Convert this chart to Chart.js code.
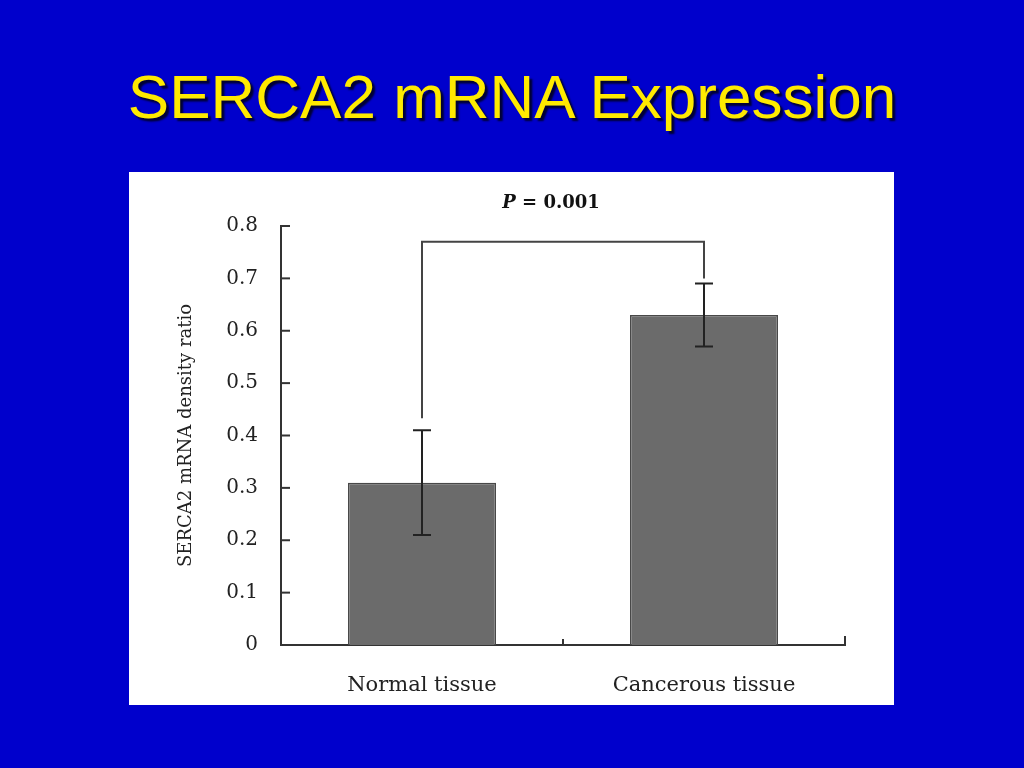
<!DOCTYPE html>
<html>
<head>
<meta charset="utf-8">
<script src="https://cdn.jsdelivr.net/npm/chart.js@4"></script>
<style>
  html, body { margin: 0; padding: 0; }
  body { width: 1024px; height: 768px; background: #0000cc; position: relative; overflow: hidden; }
  #title {
    position: absolute; left: 0; top: 61px; width: 1024px; text-align: center;
    font-family: "Liberation Sans", Arial, sans-serif; font-size: 62px; color: #ffea00;
    text-shadow: 3px 3px 2px #000033; white-space: nowrap;
  }
  #panel { position: absolute; left: 129px; top: 172px; width: 765px; height: 533px; background: #fff; }
</style>
</head>
<body>
<div id="title">SERCA2 mRNA Expression</div>
<div id="panel"><canvas id="myChart" width="765" height="533"></canvas></div>
<script>
const categories = ['Normal tissue', 'Cancerous tissue'];
const means = [0.31, 0.63];
const errors = [0.10, 0.06];
const yTicks = [0, 0.1, 0.2, 0.3, 0.4, 0.5, 0.6, 0.7, 0.8];
const pLabel = 'P = 0.001';
const bracketTop = 0.77;
const bracketLegEnds = [0.433, 0.70];

const serif = '"DejaVu Serif", "Liberation Serif", serif';

const extras = {
    id: 'extras',
    afterDatasetsDraw(chart) {
        const ctx = chart.ctx;
        const x = chart.scales.x;
        const y = chart.scales.y;
        const area = chart.chartArea;
        ctx.save();
        ctx.strokeStyle = '#333';
        ctx.lineWidth = 2;

        // inward ticks on y axis
        yTicks.forEach(v => {
            const py = y.getPixelForValue(v);
            ctx.beginPath();
            ctx.moveTo(area.left, py);
            ctx.lineTo(area.left + 9, py);
            ctx.stroke();
        });

        // small ticks on x axis
        const mid = (x.getPixelForValue(0) + x.getPixelForValue(1)) / 2;
        [[mid, 6], [area.right, 9]].forEach(([px, len]) => {
            ctx.beginPath();
            ctx.moveTo(px, area.bottom);
            ctx.lineTo(px, area.bottom - len);
            ctx.stroke();
        });

        // error bars
        ctx.strokeStyle = '#222';
        means.forEach((m, i) => {
            const px = x.getPixelForValue(i);
            const top = y.getPixelForValue(m + errors[i]);
            const bot = y.getPixelForValue(m - errors[i]);
            ctx.beginPath();
            ctx.moveTo(px, top); ctx.lineTo(px, bot);
            ctx.moveTo(px - 9, top); ctx.lineTo(px + 9, top);
            ctx.moveTo(px - 9, bot); ctx.lineTo(px + 9, bot);
            ctx.stroke();
        });

        // significance bracket
        const x0 = x.getPixelForValue(0);
        const x1 = x.getPixelForValue(1);
        const by = y.getPixelForValue(bracketTop);
        ctx.strokeStyle = '#444';
        ctx.beginPath();
        ctx.moveTo(x0, y.getPixelForValue(bracketLegEnds[0]));
        ctx.lineTo(x0, by);
        ctx.lineTo(x1, by);
        ctx.lineTo(x1, y.getPixelForValue(bracketLegEnds[1]));
        ctx.stroke();

        // P value, italic P then bold rest
        ctx.fillStyle = '#111';
        ctx.textBaseline = 'middle';
        ctx.textAlign = 'left';
        const cx = (x0 + x1) / 2 - 12;
        const ty = by - 38;
        ctx.font = 'italic bold 18px ' + serif;
        const pW = ctx.measureText('P').width;
        ctx.font = 'bold 18px ' + serif;
        const rest = pLabel.slice(1);
        const rW = ctx.measureText(rest).width;
        const sx = cx - (pW + rW) / 2;
        ctx.font = 'italic bold 18px ' + serif;
        ctx.fillText('P', sx, ty);
        ctx.font = 'bold 18px ' + serif;
        ctx.fillText(rest, sx + pW, ty);
        ctx.restore();
    }
};

const ctx = document.getElementById('myChart').getContext('2d');
const chart = new Chart(ctx, {
    type: 'bar',
    data: {
        labels: categories,
        datasets: [{
            data: means,
            backgroundColor: '#6b6b6b',
            borderColor: '#484848',
            borderWidth: 1.5,
            barPercentage: 0.525,
            categoryPercentage: 1
        }]
    },
    options: {
        responsive: false,
        animation: false,
        layout: { padding: { left: 47, right: 49, top: 54, bottom: 0 } },
        plugins: { legend: { display: false }, tooltip: { enabled: false } },
        scales: {
            x: {
                grid: { display: false, drawTicks: false },
                border: { display: true, color: '#333', width: 2 },
                ticks: { color: '#222', font: { family: serif, size: 21 }, padding: 28 },
                afterFit: s => { s.height = 60; }
            },
            y: {
                min: 0,
                max: 0.8,
                grid: { display: false, drawTicks: false },
                border: { display: true, color: '#333', width: 2 },
                ticks: {
                    stepSize: 0.1,
                    color: '#222',
                    font: { family: serif, size: 20 },
                    padding: 23,
                    callback: v => v === 0 ? '0' : Number(v).toFixed(1)
                },
                title: {
                    display: true,
                    text: 'SERCA2 mRNA density ratio',
                    color: '#222',
                    font: { family: serif, size: 18 },
                    padding: 0
                },
                afterFit: s => { s.width = 105; }
            }
        }
    },
    plugins: [extras]
});
</script>
</body>
</html>
